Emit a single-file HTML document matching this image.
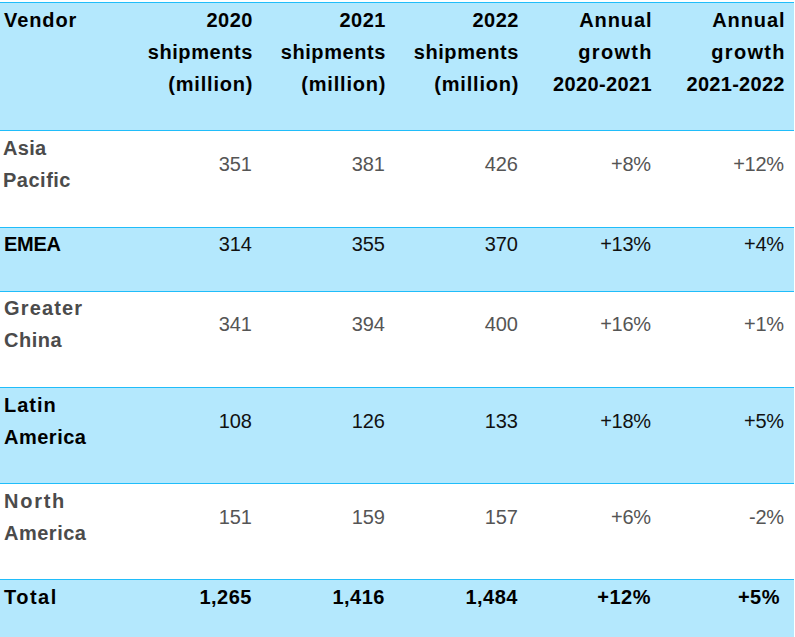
<!DOCTYPE html><html><head><meta charset="utf-8"><style>
html,body{margin:0;padding:0;background:#fff;width:795px;height:637px;overflow:hidden;position:relative}
.r{position:absolute;left:0;width:794px;box-sizing:border-box}
.t{position:absolute;font-family:"Liberation Sans",sans-serif;font-size:20px;line-height:32px;white-space:nowrap}
.b{font-weight:bold;letter-spacing:0.5px}
.n{text-align:right}
</style></head><body>

<div class="r" style="top:2px;height:1px;background:#20bdfa"></div>
<div class="r" style="top:3px;height:127px;background:#b4e8fd"></div>
<div class="r" style="top:130px;height:1px;background:#20bdfa"></div>
<div class="t b" style="left:4px;top:4px;color:#000"><span style="letter-spacing:0.9px">Vendor</span></div>
<div class="t b n" style="right:542px;top:4px;color:#000"><span style="letter-spacing:0.5px;margin-right:0.0px">2020</span><br><span style="letter-spacing:0.6px;margin-right:-0.1px">shipments</span><br><span style="letter-spacing:0.8px;margin-right:-0.3px">(million)</span></div>
<div class="t b n" style="right:409px;top:4px;color:#000"><span style="letter-spacing:0.5px;margin-right:0.0px">2021</span><br><span style="letter-spacing:0.6px;margin-right:-0.1px">shipments</span><br><span style="letter-spacing:0.8px;margin-right:-0.3px">(million)</span></div>
<div class="t b n" style="right:276px;top:4px;color:#000"><span style="letter-spacing:0.5px;margin-right:0.0px">2022</span><br><span style="letter-spacing:0.6px;margin-right:-0.1px">shipments</span><br><span style="letter-spacing:0.8px;margin-right:-0.3px">(million)</span></div>
<div class="t b n" style="right:143px;top:4px;color:#000"><span style="letter-spacing:0.9px;margin-right:-0.4px">Annual</span><br><span style="letter-spacing:1.3px;margin-right:-0.8px">growth</span><br><span style="letter-spacing:0.35px;margin-right:0.15px">2020-2021</span></div>
<div class="t b n" style="right:10px;top:4px;color:#000"><span style="letter-spacing:0.9px;margin-right:-0.4px">Annual</span><br><span style="letter-spacing:1.3px;margin-right:-0.8px">growth</span><br><span style="letter-spacing:0.3px;margin-right:0.2px">2021-2022</span></div>
<div class="r" style="top:130px;height:1px;background:#20bdfa"></div>
<div class="r" style="top:131px;height:96px;background:#fff"></div>
<div class="r" style="top:227px;height:1px;background:#20bdfa"></div>
<div class="t b" style="left:4px;top:132px;color:#4b4b4b"><span style="letter-spacing:0.3px;margin-left:-1px">Asia</span><br><span style="letter-spacing:0.5px;margin-left:-1px">Pacific</span></div>
<div class="t n" style="right:543px;top:148px;color:#555">351</div>
<div class="t n" style="right:410px;top:148px;color:#555">381</div>
<div class="t n" style="right:277px;top:148px;color:#555">426</div>
<div class="t n" style="right:144px;top:148px;color:#555"><span style="letter-spacing:-0.3px;margin-right:0.3px">+8%</span></div>
<div class="t n" style="right:11px;top:148px;color:#555"><span style="letter-spacing:-0.3px;margin-right:0.3px">+12%</span></div>
<div class="r" style="top:227px;height:1px;background:#20bdfa"></div>
<div class="r" style="top:228px;height:63px;background:#b4e8fd"></div>
<div class="r" style="top:291px;height:1px;background:#20bdfa"></div>
<div class="t b" style="left:4px;top:228px;color:#000"><span style="letter-spacing:-0.3px">EMEA</span></div>
<div class="t n" style="right:543px;top:228px;color:#111">314</div>
<div class="t n" style="right:410px;top:228px;color:#111">355</div>
<div class="t n" style="right:277px;top:228px;color:#111">370</div>
<div class="t n" style="right:144px;top:228px;color:#111"><span style="letter-spacing:-0.3px;margin-right:0.3px">+13%</span></div>
<div class="t n" style="right:11px;top:228px;color:#111"><span style="letter-spacing:-0.3px;margin-right:0.3px">+4%</span></div>
<div class="r" style="top:291px;height:1px;background:#20bdfa"></div>
<div class="r" style="top:292px;height:95px;background:#fff"></div>
<div class="r" style="top:387px;height:1px;background:#20bdfa"></div>
<div class="t b" style="left:4px;top:292px;color:#4b4b4b"><span style="letter-spacing:1.15px">Greater</span><br><span style="letter-spacing:0.5px">China</span></div>
<div class="t n" style="right:543px;top:308px;color:#555">341</div>
<div class="t n" style="right:410px;top:308px;color:#555">394</div>
<div class="t n" style="right:277px;top:308px;color:#555">400</div>
<div class="t n" style="right:144px;top:308px;color:#555"><span style="letter-spacing:-0.3px;margin-right:0.3px">+16%</span></div>
<div class="t n" style="right:11px;top:308px;color:#555"><span style="letter-spacing:-0.3px;margin-right:0.3px">+1%</span></div>
<div class="r" style="top:387px;height:1px;background:#20bdfa"></div>
<div class="r" style="top:388px;height:95px;background:#b4e8fd"></div>
<div class="r" style="top:483px;height:1px;background:#20bdfa"></div>
<div class="t b" style="left:4px;top:389px;color:#000"><span style="letter-spacing:1.0px">Latin</span><br><span style="letter-spacing:0.5px">America</span></div>
<div class="t n" style="right:543px;top:405px;color:#111">108</div>
<div class="t n" style="right:410px;top:405px;color:#111">126</div>
<div class="t n" style="right:277px;top:405px;color:#111">133</div>
<div class="t n" style="right:144px;top:405px;color:#111"><span style="letter-spacing:-0.3px;margin-right:0.3px">+18%</span></div>
<div class="t n" style="right:11px;top:405px;color:#111"><span style="letter-spacing:-0.3px;margin-right:0.3px">+5%</span></div>
<div class="r" style="top:483px;height:1px;background:#20bdfa"></div>
<div class="r" style="top:484px;height:95px;background:#fff"></div>
<div class="r" style="top:579px;height:1px;background:#20bdfa"></div>
<div class="t b" style="left:4px;top:485px;color:#4b4b4b"><span style="letter-spacing:1.75px">North</span><br><span style="letter-spacing:0.5px">America</span></div>
<div class="t n" style="right:543px;top:501px;color:#555">151</div>
<div class="t n" style="right:410px;top:501px;color:#555">159</div>
<div class="t n" style="right:277px;top:501px;color:#555">157</div>
<div class="t n" style="right:144px;top:501px;color:#555"><span style="letter-spacing:-0.3px;margin-right:0.3px">+6%</span></div>
<div class="t n" style="right:11px;top:501px;color:#555"><span style="letter-spacing:-0.3px;margin-right:0.3px">-2%</span></div>
<div class="r" style="top:579px;height:1px;background:#20bdfa"></div>
<div class="r" style="top:580px;height:120px;background:#b4e8fd"></div>
<div class="t b" style="left:4px;top:581px;color:#000"><span style="letter-spacing:1.5px">Total</span></div>
<div class="t n b" style="right:543px;top:581px;color:#000">1,265</div>
<div class="t n b" style="right:410px;top:581px;color:#000">1,416</div>
<div class="t n b" style="right:277px;top:581px;color:#000">1,484</div>
<div class="t n b" style="right:144px;top:581px;color:#000">+12%</div>
<div class="t n b" style="right:15px;top:581px;color:#000">+5%</div>
</body></html>
